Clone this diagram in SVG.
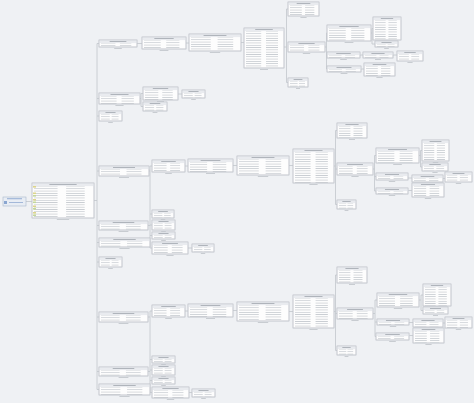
<svg xmlns="http://www.w3.org/2000/svg" xmlns:xlink="http://www.w3.org/1999/xlink" width="474" height="403" viewBox="0 0 474 403">
<style>
.bg{fill:#eff1f4}
.b{fill:#fdfdfd;stroke:#c3c7cd;stroke-width:0.6}
.bo{fill:none;stroke:#c3c7cd;stroke-width:0.6}
.h{fill:#e9ebef}
.tt{fill:#a9aeb5}
.tx{fill:url(#rw)}
.ft{fill:#bfc3c9}
.c{fill:none;stroke:#c2c6cc;stroke-width:0.8}
</style>
<defs>
<pattern id="rw" width="6" height="2.3" patternUnits="userSpaceOnUse"><rect y="0.8" width="6" height="0.7" fill="#c2c6cc"/></pattern>
<symbol id="card" overflow="visible">
<rect class="b" width="100%" height="100%"/>
<rect class="h" x="0.3" y="0.3" width="100%" height="2.8"/>
<rect class="tt" x="28%" y="1.1" width="44%" height="0.9"/>
<svg width="100%" height="100%" overflow="hidden">
<rect class="tx" x="2" y="3.6" width="38%" height="100%"/>
<rect class="tx" x="55%" y="3.6" width="30%" height="100%"/>
</svg>
<rect class="bo" width="100%" height="100%"/>
<svg y="100%" width="100%" height="3" overflow="visible"><rect class="ft" x="40%" y="1" width="20%" height="0.8"/></svg>
</symbol>
</defs>
<rect class="bg" width="474" height="403"/>

<g id="connectors" class="c">
<path d="M26,201.5H32 M94,200.5H97 M97,43.5V389.5 M97,43.5H99 M97,98.5H99 M97,116H99 M97,171H99 M97,225.5H99 M97,242.5H99 M97,262H99 M97,317H99 M97,371.5H99 M97,389.5H99"/>
<path d="M137,43.5H142 M186,43H189 M241,42.5H244 M284,47H286.5 M286.5,9V82.5 M286.5,9H288 M286.5,82.5H288 M325,47H326.5 M326.5,33V69 M326.5,33H327 M326.5,55H327 M326.5,69H327 M371,33H372 M372,28.5V44 M372,28.5H373 M372,44H375 M360,55H363 M393,55H397 M361,69H364"/>
<path d="M140,98.5H141 M141,93.5V106.5 M141,93.5H143 M141,106.5H143 M178,94H182"/>
<path d="M149,171H150 M150,166V248 M150,166H152 M150,214H152 M150,225H152 M150,235.5H152 M150,248H152 M148,225.5H150 M185,166H188 M233,165.5H237 M289,165.5H293 M334,166H335.5 M335.5,130.5V204.5 M335.5,130.5H337 M335.5,169H337 M335.5,204.5H337 M373,169H374.5 M374.5,155.5V191 M374.5,155.5H376 M374.5,176.5H376 M374.5,191H376 M419,155.5H420.5 M420.5,150.5V167 M420.5,150.5H422 M420.5,167H422 M408,178H412 M443,178.5H445 M408,190.5H412 M188,248H192"/>
<path d="M148,317H150 M150,311V392.5 M150,311H152 M150,359.5H152 M150,370H152 M150,380.5H152 M150,392.5H152 M148,371.5H150 M185,311H188 M233,310.5H237 M289,311.5H293 M334,311.5H335.5 M335.5,275V350.5 M335.5,275H337 M335.5,313.5H337 M335.5,350.5H337 M373,313.5H375 M375,300V336.5 M375,300H377 M375,322H377 M375,336.5H376 M419,300H421 M421,295V310.5 M421,295H423 M421,310.5H423 M409,322.5H413 M443,323H445 M409,335.5H413 M189,392.5H192"/>
</g>

<g id="root">
<rect x="3" y="197" width="23" height="9" fill="#e8edf4" stroke="#a9b8cb" stroke-width="0.6"/>
<rect x="7" y="198.3" width="15" height="0.9" fill="#8aa6cf"/>
<rect x="4" y="201" width="3" height="3" fill="#8aa6d0"/>
<rect x="9" y="202" width="14" height="0.9" fill="#9bb3d6"/>
</g>

<g id="main-table">
<use href="#card" x="32" y="183" width="62" height="35"/>
<rect x="33" y="186" width="3" height="1.6" fill="#ddd58a"/>
<rect x="33" y="192.5" width="3" height="1.6" fill="#ddd58a"/>
<rect x="33" y="195" width="3" height="1.6" fill="#c3d89a"/>
<rect x="33" y="199" width="3" height="1.6" fill="#ddd58a"/>
<rect x="33" y="201.5" width="3" height="1.6" fill="#c3d89a"/>
<rect x="33" y="205.5" width="3" height="1.6" fill="#ddd58a"/>
<rect x="33" y="208" width="3" height="1.6" fill="#c3d89a"/>
<rect x="33" y="212" width="3" height="1.6" fill="#ddd58a"/>
<rect x="33" y="214.5" width="3" height="1.6" fill="#c3d89a"/>
</g>

<g id="n-a1"><use href="#card" x="99" y="40" width="38" height="7"/></g>
<g id="n-a2"><use href="#card" x="99" y="93" width="41" height="11"/></g>
<g id="n-a3"><use href="#card" x="99" y="111" width="23" height="10"/></g>
<g id="n-a4"><use href="#card" x="99" y="166" width="50" height="10"/></g>
<g id="n-a5"><use href="#card" x="99" y="221" width="49" height="9"/></g>
<g id="n-a6"><use href="#card" x="99" y="238" width="51" height="9"/></g>
<g id="n-a7"><use href="#card" x="99" y="257" width="23" height="10"/></g>
<g id="n-a8"><use href="#card" x="99" y="312" width="49" height="10"/></g>
<g id="n-a9"><use href="#card" x="99" y="367" width="49" height="9"/></g>
<g id="n-a10"><use href="#card" x="99" y="384" width="51" height="11"/></g>

<g id="n-b1"><use href="#card" x="142" y="37" width="44" height="12"/></g>
<g id="n-c1"><use href="#card" x="189" y="34" width="52" height="17"/></g>
<g id="n-d1"><use href="#card" x="244" y="28" width="40" height="40"/></g>
<g id="n-e1"><use href="#card" x="288" y="2" width="31" height="14"/></g>
<g id="n-f1"><use href="#card" x="288" y="42" width="37" height="10"/></g>
<g id="n-g1"><use href="#card" x="288" y="78" width="20" height="9"/></g>
<g id="n-h1"><use href="#card" x="327" y="25" width="44" height="16"/></g>
<g id="n-i1"><use href="#card" x="327" y="52" width="33" height="6"/></g>
<g id="n-j1"><use href="#card" x="327" y="66" width="34" height="6"/></g>
<g id="n-k1"><use href="#card" x="373" y="17" width="28" height="23"/></g>
<g id="n-l1"><use href="#card" x="375" y="41" width="23" height="6"/></g>
<g id="n-m1"><use href="#card" x="363" y="52" width="30" height="6"/></g>
<g id="n-n1"><use href="#card" x="397" y="51" width="26" height="10"/></g>
<g id="n-o1"><use href="#card" x="364" y="63" width="31" height="13"/></g>

<g id="n-q2"><use href="#card" x="143" y="87" width="35" height="13"/></g>
<g id="n-r2"><use href="#card" x="182" y="90" width="23" height="8"/></g>
<g id="n-s2"><use href="#card" x="143" y="102" width="24" height="9"/></g>

<g id="n-v4"><use href="#card" x="152" y="160" width="33" height="12"/></g>
<g id="n-w4"><use href="#card" x="188" y="159" width="45" height="13"/></g>
<g id="n-x4"><use href="#card" x="237" y="156" width="52" height="19"/></g>
<g id="n-y4"><use href="#card" x="293" y="149" width="41" height="34"/></g>
<g id="n-z41"><use href="#card" x="337" y="123" width="30" height="15"/></g>
<g id="n-z42"><use href="#card" x="337" y="163" width="36" height="12"/></g>
<g id="n-z43"><use href="#card" x="337" y="200" width="19" height="9"/></g>
<g id="n-aa"><use href="#card" x="376" y="148" width="43" height="15"/></g>
<g id="n-ab"><use href="#card" x="376" y="173" width="32" height="7"/></g>
<g id="n-ac"><use href="#card" x="376" y="188" width="32" height="6"/></g>
<g id="n-ad"><use href="#card" x="422" y="140" width="27" height="21"/></g>
<g id="n-ae"><use href="#card" x="422" y="163" width="26" height="8"/></g>
<g id="n-af"><use href="#card" x="412" y="175" width="31" height="7"/></g>
<g id="n-ag"><use href="#card" x="445" y="172" width="27" height="10"/></g>
<g id="n-ah"><use href="#card" x="412" y="183" width="32" height="14"/></g>

<g id="n-s1"><use href="#card" x="152" y="210" width="22" height="8"/></g>
<g id="n-s2b"><use href="#card" x="152" y="220" width="23" height="10"/></g>
<g id="n-s3"><use href="#card" x="152" y="232" width="23" height="7"/></g>
<g id="n-s4"><use href="#card" x="152" y="242" width="36" height="12"/></g>
<g id="n-s5"><use href="#card" x="192" y="244" width="22" height="8"/></g>

<g id="n-v8"><use href="#card" x="152" y="305" width="33" height="12"/></g>
<g id="n-w8"><use href="#card" x="188" y="304" width="45" height="13"/></g>
<g id="n-x8"><use href="#card" x="237" y="302" width="52" height="19"/></g>
<g id="n-y8"><use href="#card" x="293" y="295" width="41" height="33"/></g>
<g id="n-z81"><use href="#card" x="337" y="267" width="30" height="16"/></g>
<g id="n-z82"><use href="#card" x="337" y="308" width="36" height="11"/></g>
<g id="n-z83"><use href="#card" x="337" y="346" width="19" height="9"/></g>
<g id="n-ba"><use href="#card" x="377" y="293" width="42" height="14"/></g>
<g id="n-bb"><use href="#card" x="377" y="319" width="32" height="6"/></g>
<g id="n-bc"><use href="#card" x="376" y="333" width="33" height="7"/></g>
<g id="n-bd"><use href="#card" x="423" y="284" width="28" height="22"/></g>
<g id="n-be"><use href="#card" x="423" y="307" width="25" height="7"/></g>
<g id="n-bf"><use href="#card" x="413" y="319" width="30" height="8"/></g>
<g id="n-bg"><use href="#card" x="445" y="317" width="27" height="11"/></g>
<g id="n-bh"><use href="#card" x="413" y="328" width="31" height="15"/></g>

<g id="n-t1"><use href="#card" x="152" y="356" width="23" height="7"/></g>
<g id="n-t2"><use href="#card" x="152" y="365" width="23" height="10"/></g>
<g id="n-t3"><use href="#card" x="152" y="377" width="23" height="7"/></g>
<g id="n-t4"><use href="#card" x="152" y="387" width="37" height="11"/></g>
<g id="n-t5"><use href="#card" x="192" y="389" width="23" height="8"/></g>
</svg>
